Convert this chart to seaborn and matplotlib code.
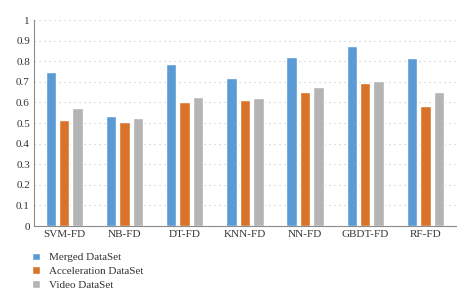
import numpy as np
import pandas as pd
import matplotlib
matplotlib.use("Agg")
import matplotlib.pyplot as plt
import seaborn as sns

# values
classifiers = ["SVM-FD", "NB-FD", "DT-FD", "KNN-FD", "NN-FD", "GBDT-FD", "RF-FD"]
merged = [0.746, 0.532, 0.786, 0.717, 0.822, 0.875, 0.814]
acceleration = [0.514, 0.504, 0.600, 0.611, 0.651, 0.694, 0.585]
video = [0.571, 0.525, 0.627, 0.624, 0.673, 0.703, 0.653]
series_names = ["Merged DataSet", "Acceleration DataSet", "Video DataSet"]
colors = ["#5B9BD5", "#D9732A", "#B4B4B4"]

df = pd.DataFrame({
    "classifier": classifiers * 3,
    "value": merged + acceleration + video,
    "dataset": np.repeat(series_names, len(classifiers)),
})

sns.set_style("white")
plt.rcParams["font.family"] = ["Liberation Serif", "DejaVu Serif"]

fig = plt.figure(figsize=(4.74, 3.05), dpi=100)
ax = fig.add_axes([0.072, 0.259, 0.889, 0.675])

sns.barplot(data=df, x="classifier", y="value", hue="dataset",
            palette=colors, saturation=1, width=0.67, gap=0.22, ax=ax, legend=True)

ax.set_ylim(0, 1)
ax.set_yticks(np.arange(0, 1.01, 0.1))
ax.set_yticklabels(["0", "0.1", "0.2", "0.3", "0.4", "0.5", "0.6", "0.7", "0.8", "0.9", "1"])
ax.yaxis.grid(True, linestyle=(0, (1, 3.5)), color="#C4C4C4", linewidth=0.8)
ax.set_axisbelow(True)
ax.set_xlabel("")
ax.set_ylabel("")
for s in ["top", "right"]:
    ax.spines[s].set_visible(False)
ax.spines["left"].set_color("#8C8C8C")
ax.spines["bottom"].set_color("#8C8C8C")
ax.spines["left"].set_linewidth(0.8)
ax.spines["bottom"].set_linewidth(0.8)
ax.tick_params(axis="both", labelsize=8, colors="#333333", length=0, pad=3)

handles, labels = ax.get_legend_handles_labels()
ax.get_legend().remove()
fig.legend(handles, labels, loc="upper left", bbox_to_anchor=(0.068, 0.172),
           frameon=False, fontsize=8, handlelength=0.7, handleheight=0.7,
           handletextpad=0.8, labelspacing=0.35, labelcolor="#333333",
           borderaxespad=0, borderpad=0)

fig.savefig("out.png", dpi=100)
